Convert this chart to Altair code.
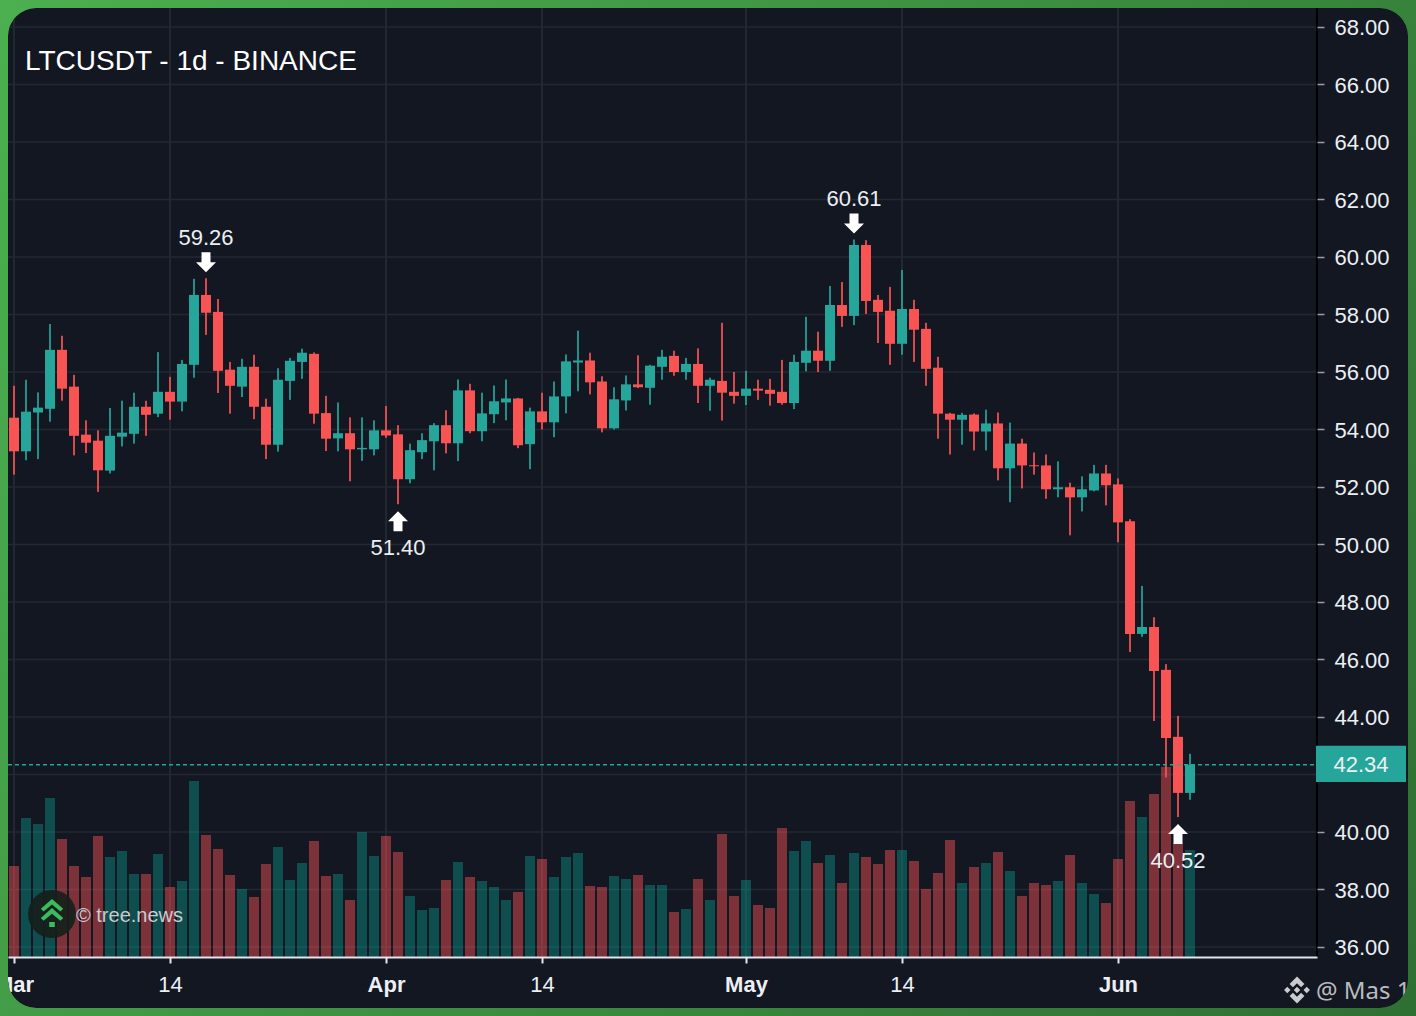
import altair as alt
import pandas as pd

# daily candles, 1 Mar - 7 Jun (day 0 = 1 Mar)
opens = [54.41,53.24,54.59,54.72,56.77,55.49,53.82,53.61,52.57,53.75,53.85,54.79,54.55,55.31,54.97,56.25,58.68,58.09,56.08,55.49,
         56.18,54.79,53.47,55.69,56.35,56.63,54.57,53.69,53.87,53.31,53.31,53.97,53.83,52.27,53.21,53.59,54.15,53.52,55.36,53.94,
         54.53,54.94,55.08,53.49,54.63,54.25,55.15,56.33,56.40,55.67,54.04,55.01,55.57,55.45,56.18,56.56,56.00,56.28,55.52,55.69,
         55.31,55.17,55.42,55.38,55.31,54.92,56.32,56.74,56.39,58.33,57.95,60.42,58.51,58.13,56.98,58.19,57.50,56.15,54.55,54.34,
         54.52,53.93,54.21,52.65,53.51,52.76,52.75,51.92,51.99,51.64,51.88,52.47,52.09,50.81,46.89,47.13,45.64,43.31,41.36]
highs = [55.52,55.73,55.29,57.67,57.26,55.90,54.32,53.97,54.75,55.00,55.28,55.00,56.69,55.83,56.42,59.24,59.26,58.54,56.35,56.46,
         56.60,55.07,56.13,56.49,56.81,56.68,55.17,54.94,54.42,54.42,54.32,54.82,54.15,53.51,53.87,54.22,54.67,55.74,55.59,55.28,
         55.53,55.74,55.10,54.76,55.28,55.67,56.61,57.44,56.67,55.85,55.47,55.88,56.58,56.25,56.77,56.74,56.49,56.82,55.80,57.71,
         56.00,56.04,55.73,55.76,56.42,56.60,57.92,57.40,58.99,59.13,60.61,60.58,58.68,58.96,59.55,58.51,57.71,56.53,54.58,54.58,
         54.56,54.69,54.59,54.24,53.68,53.20,53.13,52.89,52.15,52.37,52.77,52.77,52.30,50.88,48.56,47.47,45.84,44.04,42.72]
lows = [52.43,52.93,52.97,54.27,55.00,53.10,53.18,51.83,52.47,53.41,53.51,53.78,54.43,54.34,54.63,55.80,57.29,55.27,54.55,55.13,
        54.36,52.97,53.23,55.03,55.76,54.20,53.25,53.24,52.20,52.91,53.10,53.71,51.40,52.13,52.97,52.58,53.17,52.90,53.87,53.59,
        54.22,54.32,53.35,52.62,54.00,53.73,54.56,55.33,55.22,53.90,54.00,54.66,55.44,54.86,55.73,55.87,55.73,54.92,54.65,54.31,
        54.90,54.85,55.03,54.83,54.86,54.71,56.02,56.00,56.04,57.57,57.63,58.02,57.01,56.25,56.60,56.35,55.52,53.68,53.13,53.47,
        53.27,53.27,52.23,51.47,51.95,52.43,51.59,51.64,50.32,51.15,51.85,51.36,50.08,46.26,46.79,43.86,41.90,40.52,41.12]
closes = [53.24,54.62,54.76,56.77,55.42,53.78,53.54,52.58,53.78,53.89,54.79,54.51,55.31,54.97,56.28,58.68,58.06,56.04,55.52,56.18,
          54.79,53.47,55.73,56.39,56.67,54.55,53.68,53.87,53.31,53.36,53.97,53.79,52.27,53.28,53.63,54.15,53.52,55.36,53.94,54.56,
          54.98,55.08,53.45,54.63,54.25,55.15,56.37,56.40,55.64,54.04,55.05,55.57,55.47,56.22,56.53,56.00,56.28,55.52,55.73,55.28,
          55.17,55.42,55.35,55.24,54.92,56.35,56.74,56.39,58.33,57.95,60.42,58.47,58.09,56.98,58.19,57.47,56.11,54.55,54.34,54.51,
          53.93,54.21,52.65,53.51,52.75,52.72,51.92,51.99,51.64,51.92,52.47,52.06,50.77,46.89,47.13,45.60,43.27,41.36,42.34]
volumes = [91,139,133,159,118,91,80,121,100,106,83,83,103,70,76,176,122,108,82,68,60,93,110,77,94,116,81,83,57,125,101,121,105,61,47,
           49,77,95,80,76,70,57,65,101,98,80,100,104,71,70,81,78,82,72,72,45,48,78,57,123,61,77,52,49,129,106,116,94,102,
           74,104,100,93,107,107,96,68,84,117,74,90,94,105,86,61,74,72,76,102,74,63,54,98,
           156,140,163,190,114,107]

tick_days = [0, 13, 31, 44, 61, 74, 92]
tick_labels = ["Mar", "14", "Apr", "14", "May", "14", "Jun"]
month_days = [0, 31, 61, 92]
price_ticks = [36, 38, 40, 44, 46, 48, 50, 52, 54, 56, 58, 60, 62, 64, 66, 68]
grid_prices = [36, 38, 40, 42, 44, 46, 48, 50, 52, 54, 56, 58, 60, 62, 64, 66, 68]
last_price = 42.34
marker_days = [16, 70, 32, 97]
marker_prices = [59.26, 60.61, 51.40, 40.52]

PANEL = "#131722"
UP = "#26a69a"
DOWN = "#f95454"
VOL_UP = "#0a9384"
VOL_DOWN = "#fe5355"
FONT = "Liberation Sans"
TEXT = "#eceff4"

ARROW_DOWN = "M-0.45,-1 L0.45,-1 L0.45,0 L1,0 L0,1 L-1,0 L-0.45,0 Z"
ARROW_UP = "M-0.45,1 L0.45,1 L0.45,0 L1,0 L0,-1 L-1,0 L-0.45,0 Z"
TREE = ("M0,-1 L0.8,-0.3 L0.6,-0.1 L0,-0.6 L-0.6,-0.1 L-0.8,-0.3 Z "
        "M0,-0.35 L0.8,0.35 L0.6,0.55 L0,0.05 L-0.6,0.55 L-0.8,0.35 Z "
        "M-0.2,0.65 L0.2,0.65 L0.2,1 L-0.2,1 Z")
DIAMONDS = ("M0,-1 L0.55,-0.45 L0.3,-0.2 L0,-0.5 L-0.3,-0.2 L-0.55,-0.45 Z "
            "M0,1 L0.55,0.45 L0.3,0.2 L0,0.5 L-0.3,0.2 L-0.55,0.45 Z "
            "M0,-0.24 L0.24,0 L0,0.24 L-0.24,0 Z "
            "M-0.72,-0.24 L-0.48,0 L-0.72,0.24 L-0.96,0 Z "
            "M0.72,-0.24 L0.48,0 L0.72,0.24 L0.96,0 Z")

df = pd.DataFrame({"day": range(len(opens)), "open": opens, "high": highs, "low": lows,
                   "close": closes, "volume": volumes})
df["dir"] = ["up" if c >= o else "down" for o, c in zip(opens, closes)]
df["vdir"] = ["v" + d for d in df["dir"]]
df["top"] = df[["open", "close"]].max(axis=1)
df["bot"] = df[["open", "close"]].min(axis=1)

xs = alt.Scale(domain=[-0.5, 108.583], nice=False, zero=False, padding=0)
ys = alt.Scale(domain=[35.652, 68.66], nice=False, zero=False)
vs = alt.Scale(domain=[0, 949], nice=False)
cs = alt.Scale(domain=["up", "down", "vup", "vdown"], range=[UP, DOWN, VOL_UP, VOL_DOWN])
col = alt.Color("dir:N", legend=None, scale=cs)
vcol = alt.Color("vdir:N", legend=None, scale=cs)

label_expr = "".join(f"datum.value=={d}?'{l}':" for d, l in zip(tick_days, tick_labels)) + "''"
month_test = "indexof(" + str(month_days) + ",datum.value)>=0"
x_axis = alt.Axis(values=tick_days, labelExpr=label_expr, title=None, grid=False, zindex=1,
                  labelFontSize=22, labelColor=TEXT, labelFont=FONT, labelPadding=11,
                  labelFontWeight={"condition": {"test": month_test, "value": "bold"}, "value": "normal"},
                  labelOverlap=False, labelBound=False, labelFlush=False,
                  domainColor="#e2e5ec", domainWidth=2, tickColor="#e2e5ec", tickWidth=2, tickSize=6)
y_axis = alt.Axis(values=price_ticks, format=".2f", orient="right", title=None, grid=False, zindex=1,
                  labelFontSize=22, labelColor=TEXT, labelFont=FONT, labelPadding=10, labelOffset=1,
                  labelOverlap=False, labelBound=False, labelFlush=False, domain=False,
                  tickColor="#9a9da3", tickWidth=1.5, tickSize=7)
X = alt.X("day:Q", scale=xs, axis=x_axis)

one = pd.DataFrame({"a": [0]})

panel = alt.Chart(one).mark_rect(color=PANEL, cornerRadius=28).encode(
    x=alt.value(0), x2=alt.value(1400), y=alt.value(0), y2=alt.value(1000))

vgrid = alt.Chart(pd.DataFrame({"day": tick_days})).mark_rule(color="#2a2e39", strokeWidth=1.5).encode(
    x=X, y=alt.value(0), y2=alt.value(949))
hgrid = alt.Chart(pd.DataFrame({"p": grid_prices})).mark_rule(color="#242833", strokeWidth=1.5).encode(
    y=alt.Y("p:Q", scale=ys, axis=y_axis), x=alt.value(0), x2=alt.value(1309))
price_line = alt.Chart(one).mark_rule(color="#000000", strokeWidth=2).encode(
    x=alt.value(1309), y=alt.value(0), y2=alt.value(949))

vol = alt.Chart(df).mark_bar(size=10, opacity=0.45).encode(
    x=X, y=alt.Y("volume:Q", scale=vs, axis=None), color=vcol)
wick = alt.Chart(df).mark_rule(strokeWidth=2, opacity=0.85).encode(
    x=X, y=alt.Y("low:Q", scale=ys, axis=None), y2="high:Q", color=col)
body = alt.Chart(df).mark_bar(size=10).encode(
    x=X, y=alt.Y("top:Q", scale=ys, axis=None), y2="bot:Q", color=col)

last = pd.DataFrame({"p": [last_price], "t": [43.0], "b": [41.74],
                     "txt": [f"{last_price:.2f}"], "hidden": [42.0], "htxt": ["42.00"]})
hidden = alt.Chart(last).mark_text(fontSize=22, font=FONT, color=TEXT, align="left", baseline="middle", yOffset=1).encode(
    x=alt.value(1326), y=alt.Y("hidden:Q", scale=ys, axis=None), text="htxt:N")
dash = alt.Chart(last).mark_rule(color=UP, strokeWidth=1.5, strokeDash=[4, 3]).encode(
    y=alt.Y("p:Q", scale=ys, axis=None), x=alt.value(0), x2=alt.value(1309))
tag = alt.Chart(last).mark_rect(color=UP).encode(
    x=alt.value(1308), x2=alt.value(1398), y=alt.Y("t:Q", scale=ys, axis=None), y2="b:Q")
tag_text = alt.Chart(last).mark_text(fontSize=22, font=FONT, color=TEXT, baseline="middle").encode(
    x=alt.value(1353), y=alt.Y("p:Q", scale=ys, axis=None), text="txt:N")

mk = pd.DataFrame({"day": marker_days, "price": marker_prices, "txt": [f"{p:.2f}" for p in marker_prices]})
MY = alt.Y("price:Q", scale=ys, axis=None)


def marker(rows, shape, arrow_off, text_off):
    src = mk.iloc[rows]
    a = alt.Chart(src).mark_point(shape=shape, filled=True, opacity=1, color="#ffffff", size=400,
                                  yOffset=arrow_off).encode(x=X, y=MY)
    t = alt.Chart(src).mark_text(fontSize=22, font=FONT, color=TEXT, baseline="middle",
                                 yOffset=text_off).encode(x=X, y=MY, text="txt:N")
    return [a, t]


title = alt.Chart(one).mark_text(text="LTCUSDT - 1d - BINANCE", fontSize=28, font=FONT, color="#ffffff",
                                 align="left", baseline="middle").encode(x=alt.value(17), y=alt.value(54))
circle = alt.Chart(one).mark_point(shape="circle", filled=True, color="#161f1c", opacity=0.92, size=2304).encode(
    x=alt.value(44), y=alt.value(906))
tree = alt.Chart(one).mark_point(shape=TREE, filled=True, color="#3dbb5c", opacity=1, size=784).encode(
    x=alt.value(44), y=alt.value(905))
credit = alt.Chart(one).mark_text(text="\u00a9 tree.news", fontSize=20, font=FONT, color="#c9cbce",
                                  align="left", baseline="middle").encode(x=alt.value(68), y=alt.value(908))
diamond = alt.Chart(one).mark_point(shape=DIAMONDS, filled=True, color="#c9cbce", opacity=1, size=729).encode(
    x=alt.value(1289), y=alt.value(982))
mas = alt.Chart(one).mark_text(text="@ Mas 1", fontSize=24, font="Noto Sans", color="#b9bbbf",
                               align="left", baseline="middle").encode(x=alt.value(1308), y=alt.value(984))

layers = [panel, vgrid, hgrid, price_line, vol, wick, body, hidden, dash, tag, tag_text]
layers += marker([0, 1], ARROW_DOWN, -16, -40)
layers += marker([2, 3], ARROW_UP, 17, 44)
layers += [title, circle, tree, credit, diamond, mas]

chart = alt.layer(*layers).resolve_scale(y="independent", color="shared").properties(
    width=1309, height=949,
    padding={"left": 0, "top": 0, "right": 91, "bottom": 51},
    autosize=alt.AutoSizeParams(type="none"),
    background="transparent",
).configure_view(stroke=None)

page_css = ("html{height:100%;overflow:hidden;"
            "background:linear-gradient(120deg,#4caf50 0%,#2e7032 100%);}"
            "svg{border-radius:28px;}")
chart.save("out.html", embed_options={"renderer": "svg", "actions": False, "defaultStyle": page_css})
